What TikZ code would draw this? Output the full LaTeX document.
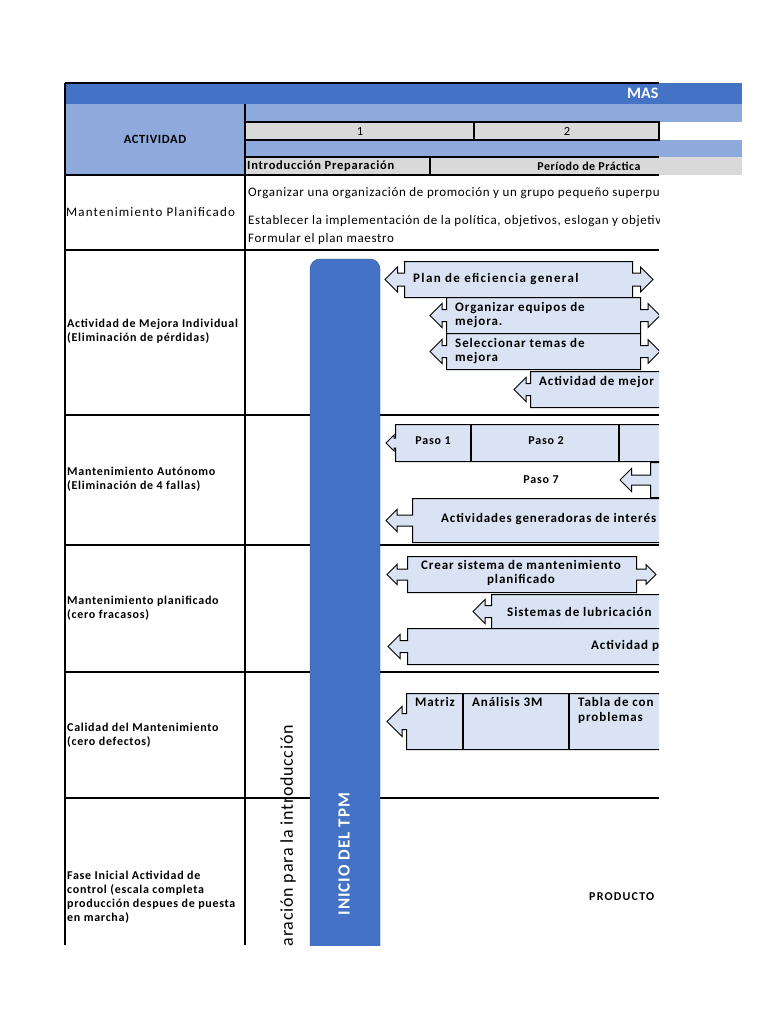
\documentclass[tikz,border=0pt]{standalone}
\usepackage{fontspec}
\setmainfont{Carlito}
\usetikzlibrary{shapes.arrows}
\definecolor{azulTPM}{HTML}{4472C4}
\definecolor{bordeTPM}{HTML}{2F528F}
\definecolor{azulclaro}{HTML}{8EA9DB}
\definecolor{gris}{HTML}{D9D9D9}
\definecolor{relleno}{HTML}{DAE3F3}
\tikzset{celda/.style={anchor=west, align=left, inner sep=0pt, font=\bfseries\fontsize{12}{14}\selectfont\addfontfeatures{LetterSpace=6}},
         etiqueta/.style={anchor=west, align=left, inner sep=0pt, font=\bfseries\fontsize{13}{14}\selectfont\addfontfeatures{LetterSpace=7}},
         texto/.style={anchor=west, inner sep=0pt, font=\fontsize{13}{15}\selectfont\addfontfeatures{LetterSpace=5}},
         rotulo/.style={inner sep=0pt, font=\bfseries\fontsize{12.5}{14}\selectfont\addfontfeatures{LetterSpace=5}},
         paso/.style={inner sep=0pt, font=\bfseries\fontsize{12}{14}\selectfont\addfontfeatures{LetterSpace=7}},
         flecha/.style={shape=arrow box, draw=black, fill=relleno, line width=1pt, anchor=north west,
                        inner sep=0pt, arrow box shaft width=12pt, arrow box head extend=6pt},
         linea/.style={line width=1.2pt}}

\begin{document}
\begin{tikzpicture}[x=1pt,y=-1pt]
\useasboundingbox (0,0) rectangle (768,1024);
% cabecera
\fill[azulTPM] (65,83) rectangle (742,104);
\fill[azulclaro] (65,104) rectangle (742,122);
\fill[azulclaro] (65,122) rectangle (245,175);
\fill[azulclaro] (245,140) rectangle (742,157);
\fill[gris] (245,157) rectangle (742,175);
\draw[linea, fill=gris] (245,122) rectangle (474,140);
\draw[linea, fill=gris] (474,122) rectangle (659,140);
\draw[linea] (65,83) -- (659,83);
\draw[linea] (245,157) -- (659,157);
\draw[linea] (430,157) -- (430,175);
\node[rotulo] (actividad) at (155,139) {ACTIVIDAD};
\node[inner sep=0pt, font=\fontsize{12.5}{14}\selectfont] (uno) at (360,131) {1};
\node[inner sep=0pt, font=\fontsize{12.5}{14}\selectfont] (dos) at (567,131) {2};
\node[celda, font=\bfseries\fontsize{12.5}{14}\selectfont\addfontfeatures{LetterSpace=6}] (intro) at (247,166) {Introducción Preparación};
\node[rotulo, font=\bfseries\fontsize{12}{14}\selectfont\addfontfeatures{LetterSpace=4}] (practica) at (589,166) {Período de Práctica};
% filas
\draw[line width=2pt] (65,175) -- (659,175);
\foreach \y in {250,415,545,672,798}
  \draw[linea] (65,\y) -- (659,\y);
\draw[linea] (65,83) -- (65,945);
\draw[linea] (245,104) -- (245,945);
\node[texto, font=\fontsize{13}{15}\selectfont\addfontfeatures{LetterSpace=9}] (planificado) at (66,212) {Mantenimiento Planificado};
\node[celda] (individual) at (67,331) {Actividad de Mejora Individual\\(Eliminación de pérdidas)};
\node[celda] (autonomo) at (67,479) {Mantenimiento Autónomo\\(Eliminación de 4 fallas)};
\node[celda] (fracasos) at (67,608) {Mantenimiento planificado\\(cero fracasos)};
\node[celda] (calidad) at (67,735) {Calidad del Mantenimiento\\(cero defectos)};
\node[celda] (fase) at (67,897) {Fase Inicial Actividad de\\control (escala completa\\producción despues de puesta\\en marcha)};

\begin{scope}
\clip (0,0) rectangle (659,945);
\node[anchor=west, inner sep=0pt, text=white, font=\bfseries\fontsize{16}{18}\selectfont] (titulo) at (627,93) {MAS};
% fila 1
\node[texto] (promocion) at (248,193) {Organizar una organización de promoción y un grupo pequeño superpu};
\node[texto] (politica) at (248,221) {Establecer la implementación de la política, objetivos, eslogan y objetiv};
\node[texto] (maestro) at (248,239) {Formular el plan maestro};
% barra de inicio
\draw[fill=azulTPM, draw=bordeTPM, rounded corners=10pt] (310,259) rectangle (380,990);
\node[rotate=90, inner sep=0pt, text=white, font=\bfseries\fontsize{17}{19}\selectfont\addfontfeatures{LetterSpace=6}] (inicio) at (344,854) {INICIO DEL TPM};
\node[rotate=90, anchor=east, inner sep=0pt, font=\fontsize{18}{20}\selectfont\addfontfeatures{LetterSpace=4}] (preparacion) at (288,725) {Preparación para la introducción};
% mejora individual
\node[flecha, minimum width=228pt, minimum height=36pt, arrow box arrows={west:19pt, east:20pt}, arrow box shaft width=13pt] (plan) at (404,261) {};
\node[etiqueta, font=\bfseries\fontsize{13}{14}\selectfont\addfontfeatures{LetterSpace=10.5}] (planT) at (413,279) {Plan de eficiencia general};
\node[flecha, minimum width=194pt, minimum height=36pt, arrow box arrows={west:16pt, east:19pt}] (equipos) at (446,297) {};
\node[etiqueta] (equiposT) at (455,315) {Organizar equipos de\\mejora.};
\node[flecha, minimum width=194pt, minimum height=36pt, arrow box arrows={west:16pt, east:19pt}] (temas) at (446,333) {};
\node[etiqueta] (temasT) at (455,351) {Seleccionar temas de\\mejora};
\node[flecha, minimum width=200pt, minimum height=36pt, arrow box arrows={west:16pt}] (mejora) at (530,371) {};
\node[etiqueta] (mejoraT) at (539,382) {Actividad de mejor};
% autonomo
\node[flecha, minimum width=330pt, minimum height=37pt, arrow box arrows={west:9pt}, arrow box shaft width=10pt, arrow box head extend=3pt] (pasos) at (395,424) {};
\draw[linea] (471,424) -- (471,461);
\draw[linea] (619,424) -- (619,461);
\node[paso] (paso1) at (433,441) {Paso 1};
\node[paso] (paso2) at (546,441) {Paso 2};
\node[paso] (paso7) at (541,480) {Paso 7};
\node[flecha, minimum width=60pt, minimum height=35pt, arrow box arrows={west:30pt}, arrow box shaft width=10pt, arrow box head extend=6.5pt] (vuelta) at (650,462) {};
\node[flecha, minimum width=300pt, minimum height=44pt, arrow box arrows={west:26pt}, arrow box shaft width=11pt, arrow box head extend=5.5pt] (interes) at (412,498) {};
\node[etiqueta] (interesT) at (441,519) {Actividades generadoras de interés};
% planificado
\node[flecha, minimum width=229pt, minimum height=36pt, arrow box arrows={west:20pt, east:19pt}, arrow box shaft width=11pt, arrow box head extend=4.5pt] (crear) at (407,556) {};
\node[etiqueta, anchor=center, align=center] (crearT) at (521,573) {Crear sistema de mantenimiento\\planificado};
\node[flecha, minimum width=250pt, minimum height=34pt, arrow box arrows={west:18pt}] (lubricacion) at (491,594) {};
\node[etiqueta] (lubricacionT) at (507,612) {Sistemas de lubricación};
\node[flecha, minimum width=320pt, minimum height=36pt, arrow box arrows={west:19pt}] (preventiva) at (407,628) {};
\node[etiqueta] (preventivaT) at (591,646) {Actividad p};
% calidad
\node[flecha, minimum width=320pt, minimum height=56pt, arrow box arrows={west:19pt}, arrow box shaft width=16pt, arrow box head extend=7pt] (matriz) at (406,693) {};
\draw[linea] (463,693) -- (463,749);
\draw[linea] (569,693) -- (569,749);
\node[etiqueta] (matrizT) at (415,702) {Matriz};
\node[etiqueta] (analisis) at (472,702) {Análisis 3M};
\node[etiqueta, font=\bfseries\fontsize{13}{15}\selectfont\addfontfeatures{LetterSpace=7}] (tabla) at (578,710) {Tabla de con\\problemas};
% fase inicial
\node[paso, anchor=west, font=\bfseries\fontsize{12}{14}\selectfont\addfontfeatures{LetterSpace=10}] (producto) at (589,897) {PRODUCTO};
\end{scope}
\end{tikzpicture}
\end{document}
